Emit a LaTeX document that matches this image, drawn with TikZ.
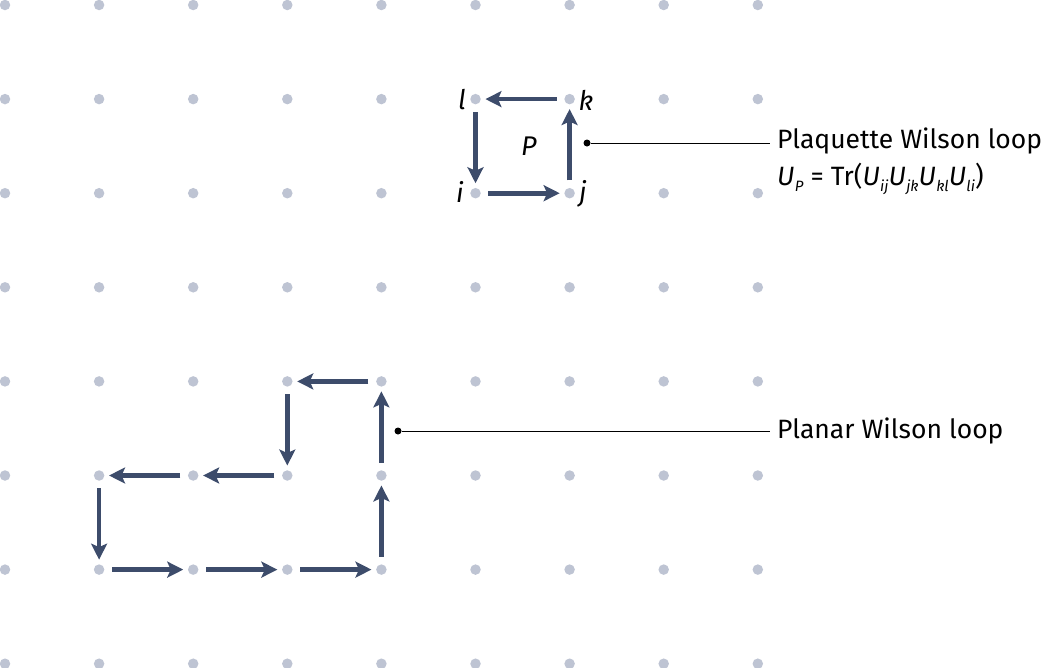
\documentclass[tikz,border=0pt]{standalone}
\usepackage{fontspec}
\setmainfont{Fira Sans}
\usetikzlibrary{arrows.meta}
\definecolor{dotc}{HTML}{BEC4D3}
\definecolor{arrc}{HTML}{3D4C6B}
\newcommand\Usb[1]{\textit{U}\kern0.3pt\raisebox{-0.22em}{\fontsize{15}{15}\selectfont\itshape #1}}
\begin{document}
\begin{tikzpicture}[x=1pt,y=-1pt,
  dot/.style={circle,fill=dotc,inner sep=0pt,minimum size=10.5pt},
  link/.style={draw=arrc,line width=4.6pt,shorten <=7.5pt,shorten >=4.5pt,
    -{Stealth[length=16pt,width=16pt,inset=3.5pt]}},
  lbl/.style={font=\fontsize{27}{27}\selectfont\itshape,inner sep=0pt},
  callout/.style={draw=black,line width=1pt},
  ctext/.style={font=\fontsize{26.5}{30}\selectfont,inner sep=0pt,anchor=west,align=left},
  pin/.style={circle,fill=black,inner sep=0pt,minimum size=7pt}]
\useasboundingbox (0,0) rectangle (1051,667);
\foreach \i in {0,...,8}{
  \foreach \j in {0,...,7}{
    \node[dot] (d-\i-\j) at ({5+94.1*\i},{5+94.1*\j}) {};
  }
}
% plaquette: i=(5,2) j=(6,2) k=(6,1) l=(5,1)
\draw[link] (d-5-2) -- (d-6-2);
\draw[link] (d-6-2) -- (d-6-1);
\draw[link] (d-6-1) -- (d-5-1);
\draw[link] (d-5-1) -- (d-5-2);
\node[lbl] (ll) at (462,100) {l};
\node[lbl] (lk) at (586,100) {k};
\node[lbl] (li) at (460,192) {i};
\node[lbl] (lj) at (583,194) {j};
\node[lbl] (lp) at (529,146) {P};
% plaquette callout
\node[pin] (p1) at (587,143) {};
\coordinate (p1e) at (770,143);
\draw[callout] (p1) -- (p1e);
\node[ctext] (t1) at (777,141) {Plaquette Wilson loop};
\node[ctext] (t2) at (777,179) {\Usb{P} = Tr(\Usb{ij}\Usb{jk}\Usb{kl}\Usb{li})};
% planar loop
\draw[link] (d-4-6) -- (d-4-5);
\draw[link] (d-4-5) -- (d-4-4);
\draw[link] (d-4-4) -- (d-3-4);
\draw[link] (d-3-4) -- (d-3-5);
\draw[link] (d-3-5) -- (d-2-5);
\draw[link] (d-2-5) -- (d-1-5);
\draw[link] (d-1-5) -- (d-1-6);
\draw[link] (d-1-6) -- (d-2-6);
\draw[link] (d-2-6) -- (d-3-6);
\draw[link] (d-3-6) -- (d-4-6);
\node[pin] (p2) at (398,431) {};
\coordinate (p2e) at (770,431);
\draw[callout] (p2) -- (p2e);
\node[ctext] (t3) at (777,431) {Planar Wilson loop};
\end{tikzpicture}
\end{document}
